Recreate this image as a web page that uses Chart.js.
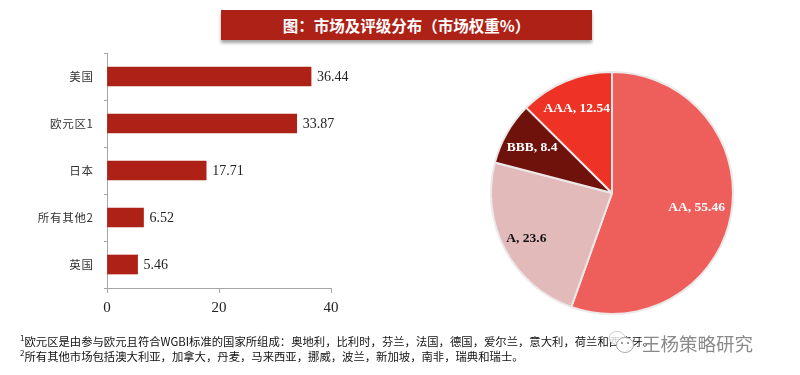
<!DOCTYPE html>
<html>
<head>
<meta charset="utf-8">
<script src="https://cdn.jsdelivr.net/npm/chart.js@4/dist/chart.umd.min.js"></script>
<style>
  html, body { margin:0; padding:0; background:#fff; }
  #page { position:relative; width:800px; height:375px; overflow:hidden; font-family:"Noto Sans CJK SC","Noto Sans",sans-serif; }
  #title { position:absolute; left:221px; top:10px; width:371px; height:30px; line-height:30px; background:#ae2116; color:#fff; text-align:center; font-size:15.5px; font-weight:bold; box-shadow:0 3px 3px rgba(90,90,90,.55); }
  #bars { position:absolute; left:0; top:0; }
  #pie { position:absolute; left:470px; top:51px; }
  #notes { position:absolute; left:20px; top:334px; font-size:11.35px; line-height:15px; color:#111; white-space:nowrap; }
  #notes sup { font-size:8px; line-height:0; }
  #mark { position:absolute; left:642px; top:330px; font-size:18.5px; line-height:26px; color:#8a8a8a; white-space:nowrap; }
  #icon { position:absolute; left:607px; top:330px; }
</style>
</head>
<body>
<div id="page">
  <div id="title">图：市场及评级分布（市场权重%）</div>
  <canvas id="bars" width="400" height="320"></canvas>
  <canvas id="pie" width="284" height="284"></canvas>
  <div id="notes">
    <div><sup>1</sup>欧元区是由参与欧元且符合WGBI标准的国家所组成：奥地利，比利时，芬兰，法国，德国，爱尔兰，意大利，荷兰和西班牙。</div>
    <div><sup>2</sup>所有其他市场包括澳大利亚，加拿大，丹麦，马来西亚，挪威，波兰，新加坡，南非，瑞典和瑞士。</div>
  </div>
  <svg id="icon" width="28" height="26" viewBox="0 0 28 26">
    <ellipse cx="10" cy="8" rx="8" ry="6.5" fill="#fff" fill-opacity=".8" stroke="#ccc" stroke-width="1"/>
    <ellipse cx="18" cy="15" rx="8.5" ry="7.5" fill="#fff" stroke="#aaa" stroke-width="1"/>
    <circle cx="15" cy="13" r="1" fill="#777"/>
    <circle cx="21" cy="13" r="1" fill="#777"/>
  </svg>
  <div id="mark">王杨策略研究</div>
</div>
<script>
const markets = ["美国", "欧元区1", "日本", "所有其他2", "英国"]
const weights = [36.44, 33.87, 17.71, 6.52, 5.46]
const ticks = [0, 20, 40]

const ratings = ["AA", "A", "BBB", "AAA"]
const shares = [55.46, 23.6, 8.4, 12.54]
const sliceColors = ["#ee5f5c", "#e2baba", "#6f120c", "#ee3226"]
const labelColors = ["#fff", "#111", "#fff", "#fff"]
// how far out along each slice its label sits
const labelRadius = [0.71, 0.8, 0.76, 0.76]

const serif = "'Liberation Serif', serif"

// value labels at the end of the bars
const barValues = {
  id: "barValues",
  afterDraw(chart){
    let ctx = chart.ctx
    ctx.save()
    ctx.font = "14px " + serif
    ctx.fillStyle = "#222"
    ctx.textBaseline = "middle"
    chart.getDatasetMeta(0).data.forEach((bar, i)=>{
      ctx.fillText(weights[i], bar.x + 6, bar.y + 1)
    })
    ctx.restore()
  }
}

new Chart(document.getElementById("bars"), {
  type:"bar",
  data:{
    labels: markets,
    datasets:[{
      data: weights,
      backgroundColor:"#ae2116",
      barThickness:19
    }]
  },
  options:{
    indexAxis:"y",
    responsive:false,
    animation:false,
    layout:{ padding:{ top:53, right:69, bottom:0, left:0 } },
    plugins:{ legend:{display:false}, tooltip:{enabled:false} },
    scales:{
      x:{
        min:0, max:40,
        afterBuildTicks(axis){ axis.ticks = ticks.map(v=>({value:v})) },
        grid:{ drawOnChartArea:false, color:"#a6a6a6", tickLength:5 },
        border:{ color:"#a6a6a6", width:1 },
        ticks:{ color:"#222", font:{ family:serif, size:15 }, padding:6, maxRotation:0 },
        afterFit(axis){ axis.height = 32 }
      },
      y:{
        grid:{ drawOnChartArea:false, color:"#a6a6a6", tickLength:3 },
        border:{ color:"#a6a6a6", width:1 },
        ticks:{
          color:"#333",
          font:{ family:"'Noto Sans CJK SC'", size:11.5 },
          padding:11,
          autoSkip:false,
          // the labels are set a bit loose in the original
          callback(value){ return Array.from(markets[value]).join("\u200a") }
        },
        afterFit(axis){ axis.width = 107 }
      }
    }
  },
  plugins:[barValues]
})

// "AA, 55.46" style labels inside the slices
const sliceLabels = {
  id: "sliceLabels",
  afterDraw(chart){
    let ctx = chart.ctx
    ctx.save()
    ctx.font = "bold 13.5px " + serif
    ctx.textAlign = "center"
    ctx.textBaseline = "middle"
    chart.getDatasetMeta(0).data.forEach((arc, i)=>{
      let mid = (arc.startAngle + arc.endAngle) / 2
      let r = arc.outerRadius * labelRadius[i]
      ctx.fillStyle = labelColors[i]
      ctx.fillText(ratings[i] + ", " + shares[i], arc.x + Math.cos(mid)*r, arc.y + Math.sin(mid)*r)
    })
    ctx.restore()
  }
}

new Chart(document.getElementById("pie"), {
  type:"pie",
  data:{
    labels: ratings,
    datasets:[{
      data: shares,
      backgroundColor: sliceColors,
      borderColor:"#ece8e8",
      borderWidth:2
    }]
  },
  options:{
    responsive:false,
    animation:false,
    layout:{ padding:20 },
    plugins:{ legend:{display:false}, tooltip:{enabled:false} }
  },
  plugins:[sliceLabels]
})
</script>
</body>
</html>
